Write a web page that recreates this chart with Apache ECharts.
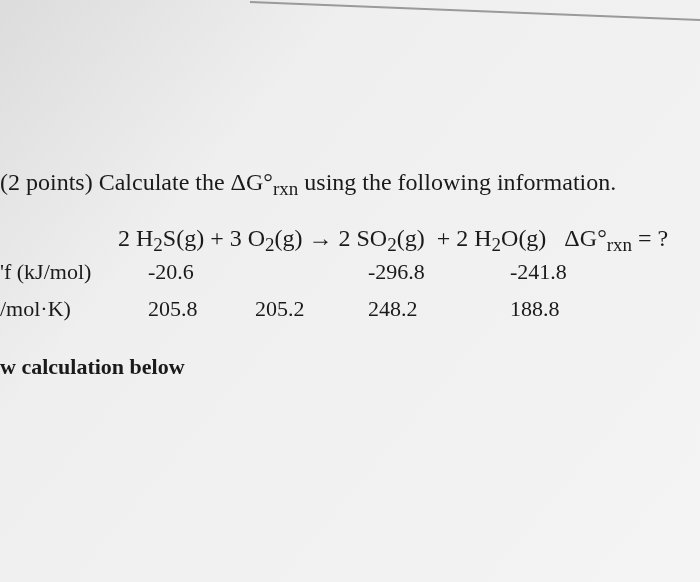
<!DOCTYPE html>
<html><head><meta charset="utf-8">
<script src="https://cdn.jsdelivr.net/npm/echarts@6/dist/echarts.min.js"></script>
<style>html,body{margin:0;padding:0}#c{width:700px;height:582px}</style>
</head><body><div id="c"></div>
<script>
const dGfValues = ['-20.6', '', '-296.8', '-241.8'];
const entropyValues = ['205.8', '205.2', '248.2', '188.8'];
const valueXs = [148, 255, 368, 510];
const rowLabels = ["'f (kJ/mol)", "/mol\u00B7K)"];

const chart = echarts.init(document.getElementById('c'));
const F = 'Liberation Serif';
const base = {fontFamily: F, fontSize: 22, fill: '#1a1a1a'};
const rich = {
  n: {fontFamily: F, fontSize: 24, color: '#1a1a1a'},
  s: {fontFamily: F, fontSize: 19, color: '#1a1a1a', verticalAlign: 'bottom', padding: [12, 0, 0, 0]}
};
const els = [];
els.push({type: 'rect', shape: {x: 0, y: 0, width: 700, height: 582},
  style: {fill: new echarts.graphic.LinearGradient(0, 0, 1, 1, [
    {offset: 0, color: '#dcdcdc'}, {offset: 0.3, color: '#efefef'}, {offset: 1, color: '#f4f4f4'}])}, z: 0});
els.push({type: 'line', shape: {x1: 250, y1: 2, x2: 700, y2: 20}, style: {stroke: '#9a9a9a', lineWidth: 2}, z: 1});
function rt(x, y, text, extra) {
  els.push({type: 'text', x: x, y: y, z: 2, style: Object.assign({text: text, rich: rich, textVerticalAlign: 'middle'}, base, extra || {})});
}
rt(0, 184, '{n|(2 points) Calculate the \u0394G\u00B0}{s|rxn}{n| using the following information.}');
rt(118, 240, '{n|2 H}{s|2}{n|S(g) + 3 O}{s|2}{n|(g) \u2192 2 SO}{s|2}{n|(g)  + 2 H}{s|2}{n|O(g)   \u0394G\u00B0}{s|rxn}{n| = ?}');
rt(0, 273, rowLabels[0]);
rt(0, 310, rowLabels[1]);
dGfValues.forEach((v, i) => { if (v) rt(valueXs[i], 273, v); });
entropyValues.forEach((v, i) => rt(valueXs[i], 310, v));
rt(0, 368, 'w calculation below', {fontWeight: 'bold'});
chart.setOption({animation: false, graphic: {elements: els}});
</script></body></html>
